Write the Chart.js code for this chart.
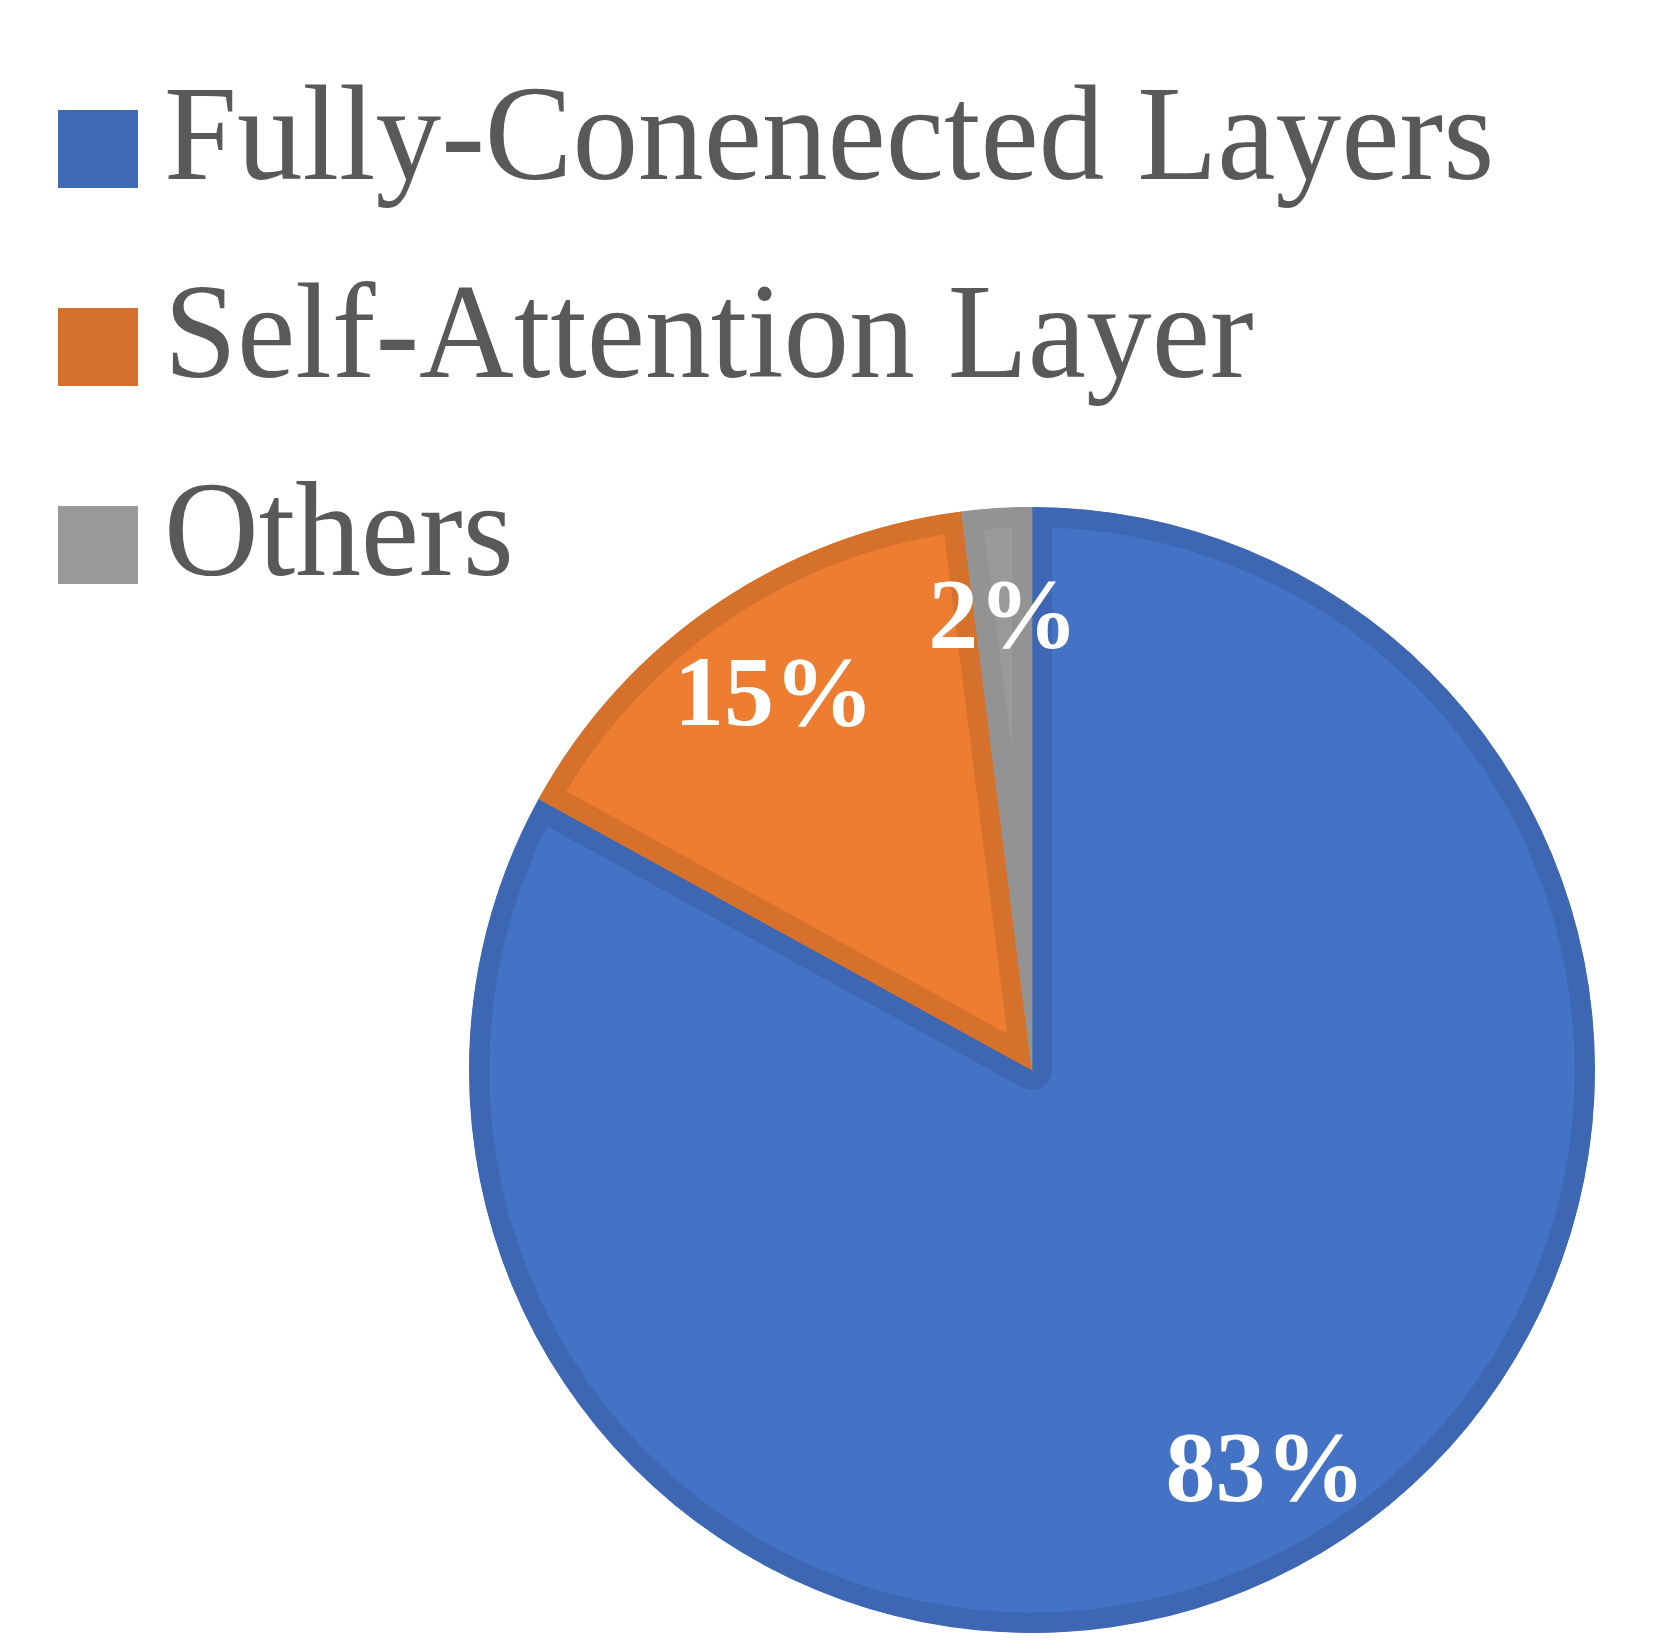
<!DOCTYPE html>
<html>
<head>
<meta charset="utf-8">
<script src="https://cdn.jsdelivr.net/npm/chart.js@4"></script>
<style>
  html, body { margin: 0; padding: 0; background: #ffffff; }
  #wrap { position: relative; width: 1661px; height: 1652px; }
</style>
</head>
<body>
<div id="wrap"><canvas id="pie-chart"></canvas></div>
<script>
// Share of compute per layer type
const layerLabels = ['Fully-Conenected Layers', 'Self-Attention Layer', 'Others'];
const layerShares = [83, 15, 2];

const sliceColors = ['#4472C4', '#ED7D31', '#9A9A9A'];
const sliceBorders = ['#3D67B2', '#D6712C', '#939393'];
const boxColors = ['#3E69B3', '#D4712D', '#999999'];

// Legend drawn at the top left, over the empty corner next to the pie
const legendPlugin = {
    id: 'cornerLegend',
    afterDraw(chart) {
        const ctx = chart.ctx;
        ctx.save();
        ctx.font = '136px "Liberation Serif", "Times New Roman", serif';
        ctx.textAlign = 'left';
        ctx.textBaseline = 'alphabetic';
        layerLabels.forEach((label, i) => {
            const baseline = 179 + i * 198;
            ctx.fillStyle = boxColors[i];
            ctx.fillRect(58, baseline - 69, 80, 78);
            // the source font is a bit narrower than Liberation Serif
            ctx.save();
            ctx.translate(164, baseline);
            ctx.scale(0.965, 1);
            ctx.fillStyle = '#595959';
            ctx.fillText(label, 0, 0);
            ctx.restore();
        });
        ctx.restore();
    }
};

// White percentage labels inside each slice
const percentPlugin = {
    id: 'percentLabels',
    afterDatasetsDraw(chart) {
        const ctx = chart.ctx;
        const meta = chart.getDatasetMeta(0);
        const total = layerShares.reduce((acc, v) => acc + v, 0);
        ctx.save();
        ctx.font = 'bold 100px "Liberation Serif", "Times New Roman", serif';
        ctx.fillStyle = '#ffffff';
        ctx.textAlign = 'center';
        ctx.textBaseline = 'alphabetic';
        meta.data.forEach((arc, i) => {
            const p = arc.getProps(['x', 'y', 'startAngle', 'endAngle', 'outerRadius'], true);
            const mid = (p.startAngle + p.endAngle) / 2;
            const d = p.outerRadius * 0.815;
            const x = p.x + Math.cos(mid) * d;
            const y = p.y + Math.sin(mid) * d;
            const pct = Math.round(layerShares[i] / total * 100) + '%';
            ctx.fillText(pct, x, y + 35);
        });
        ctx.restore();
    }
};

const ctx = document.getElementById('pie-chart').getContext('2d');
new Chart(ctx, {
    type: 'pie',
    data: {
        labels: layerLabels,
        datasets: [{
            data: layerShares,
            backgroundColor: sliceColors,
            borderColor: sliceBorders,
            borderWidth: 20,
            borderAlign: 'inner',
            hoverOffset: 0
        }]
    },
    options: {
        responsive: true,
        maintainAspectRatio: false,
        animation: false,
        layout: {
            padding: { left: 469, top: 507, right: 66, bottom: 19 }
        },
        plugins: {
            legend: { display: false },
            tooltip: { enabled: false }
        }
    },
    plugins: [legendPlugin, percentPlugin]
});
</script>
</body>
</html>
